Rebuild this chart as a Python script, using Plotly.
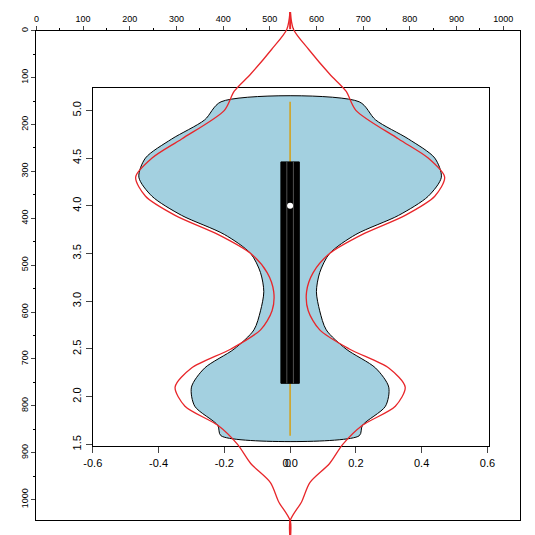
import plotly.graph_objects as go

# violin outline (half widths) in inner data units
violin_y = [1.59, 1.7, 1.9, 2.1, 2.3, 2.5, 2.7, 2.9, 3.1, 3.3, 3.5, 3.7, 3.9, 4.1, 4.3, 4.5, 4.7, 4.9, 5.09]
violin_w = [0.21, 0.22, 0.29, 0.30, 0.26, 0.17, 0.11, 0.09, 0.08, 0.09, 0.12, 0.20, 0.33, 0.42, 0.46, 0.44, 0.36, 0.26, 0.21]

# red density curve, spans whole page
dens_y = [0.5, 0.7, 0.9, 1.1, 1.3, 1.5, 1.7, 1.9, 2.1, 2.3, 2.5, 2.7, 2.9, 3.1, 3.3, 3.5, 3.7, 3.9, 4.1, 4.3, 4.5, 4.7, 5.0, 5.2, 5.38, 5.64, 5.85, 6.05]
dens_w = [0.0, 0.0, 0.035, 0.06, 0.12, 0.16, 0.22, 0.32, 0.35, 0.30, 0.18, 0.09, 0.055, 0.05, 0.07, 0.12, 0.22, 0.35, 0.44, 0.47, 0.42, 0.33, 0.20, 0.17, 0.12, 0.056, 0.01, 0.0]

box_q1, box_q3, box_med = 2.14, 4.46, 4.0
whisk_lo, whisk_hi = 1.59, 5.09

fig = go.Figure()

# hidden outer-axes trace so the outer frame renders first (underneath)
fig.add_trace(go.Scatter(x=[0], y=[0], mode="markers", marker=dict(opacity=0),
                         xaxis="x2", yaxis="y2"))

vx = [-w for w in violin_w] + [w for w in violin_w[::-1]] + [-violin_w[0]]
vy = violin_y + violin_y[::-1] + [violin_y[0]]
fig.add_trace(go.Scatter(x=vx, y=vy, fill="toself", fillcolor="#a3d0e0",
                         line=dict(color="black", width=1, shape="spline", smoothing=0.8),
                         mode="lines", xaxis="x", yaxis="y"))
fig.add_trace(go.Scatter(x=[0, 0], y=[whisk_lo, whisk_hi], mode="lines",
                         line=dict(color="#d4a017", width=1.5), xaxis="x", yaxis="y"))
fig.add_trace(go.Scatter(x=[-0.028, 0.028, 0.028, -0.028, -0.028],
                         y=[box_q1, box_q1, box_q3, box_q3, box_q1],
                         fill="toself", fillcolor="black", mode="lines",
                         line=dict(color="black", width=1), xaxis="x", yaxis="y"))
for bx in [-0.01, 0.01]:
    fig.add_trace(go.Scatter(x=[bx, bx], y=[box_q1, box_q3], mode="lines",
                             line=dict(color="#888888", width=0.6), xaxis="x", yaxis="y"))
fig.add_trace(go.Scatter(x=[0], y=[box_med], mode="markers",
                         marker=dict(color="white", size=6), xaxis="x", yaxis="y"))

# red curve on full-page overlay axes
red = dict(color="#e8262a", width=1.3, shape="spline", smoothing=0.8)
fig.add_trace(go.Scatter(x=[-w for w in dens_w], y=dens_y, mode="lines",
                         line=red, xaxis="x3", yaxis="y3"))
fig.add_trace(go.Scatter(x=dens_w, y=dens_y, mode="lines",
                         line=red, xaxis="x3", yaxis="y3"))
fig.add_trace(go.Scatter(x=[0, 0], y=[0.4, 0.7], mode="lines",
                         line=dict(color="#e8262a", width=2), xaxis="x3", yaxis="y3"))
fig.add_trace(go.Scatter(x=[0, 0], y=[5.85, 6.2], mode="lines",
                         line=dict(color="#e8262a", width=2), xaxis="x3", yaxis="y3"))

tf = dict(family="Liberation Sans, Arial", size=11, color="black")
sf = dict(family="Liberation Sans, Arial", size=9, color="black")
H = 535.0
fig.update_layout(
    width=535, height=535, margin=dict(l=0, r=0, t=0, b=0),
    paper_bgcolor="white", plot_bgcolor="rgba(0,0,0,0)", showlegend=False,
    xaxis=dict(domain=[78 / H, 486 / H], range=[-0.6, 0.606], anchor="y",
               tickvals=[-0.6, -0.4, -0.2, 0, 0.2, 0.4, 0.6],
               ticktext=["-0.6", "-0.4", "-0.2", "0.0", "0.2", "0.4", "0.6"],
               ticks="outside", ticklen=6, showgrid=False, zeroline=False,
               showline=True, linecolor="black", mirror=True, tickfont=tf),
    yaxis=dict(domain=[1 - 441 / H, 1 - 77 / H], range=[1.479, 5.236], anchor="x",
               tickvals=[1.5, 2, 2.5, 3, 3.5, 4, 4.5, 5],
               ticktext=["1.5", "2.0", "2.5", "3.0", "3.5", "4.0", "4.5", "5.0"],
               tickangle=-90, ticks="outside", ticklen=6, showgrid=False, zeroline=False,
               showline=True, linecolor="black", mirror=True, tickfont=tf),
    xaxis2=dict(domain=[20 / H, 518 / H], range=[0, 1037], side="top", anchor="y2",
                tickvals=list(range(0, 1001, 100)), ticks="outside",
                ticklen=4, showgrid=False, zeroline=False, showline=True,
                linecolor="black", mirror=True, tickfont=sf,
                minor=dict(dtick=50, ticks="outside", ticklen=2, tickcolor="black")),
    yaxis2=dict(domain=[1 - 516 / H, 1 - 19 / H], range=[1044, 0], anchor="x2",
                tickvals=list(range(0, 1001, 100)), tickangle=-90,
                ticks="outside", ticklen=4, showgrid=False, zeroline=False,
                showline=True, linecolor="black", mirror=True, tickfont=sf,
                minor=dict(dtick=50, ticks="outside", ticklen=2, tickcolor="black")),
    xaxis3=dict(domain=[0, 1], range=[-0.831, 0.751], visible=False, anchor="y3"),
    yaxis3=dict(domain=[0, 1], range=[0.509, 6.03], visible=False, anchor="x3"),
)

# overlapping secondary labels as in the reference
for v in [2, 3, 4, 5]:
    fig.add_annotation(x=-0.62, y=v - 0.03, xref="x", yref="y", text=str(v), showarrow=False,
                       textangle=-90, font=tf, xanchor="right")
fig.add_annotation(x=-0.006, y=1.479, xref="x", yref="y", text="0", showarrow=False,
                   font=tf, yanchor="top", yshift=-9)

fig.write_html("out.html")
